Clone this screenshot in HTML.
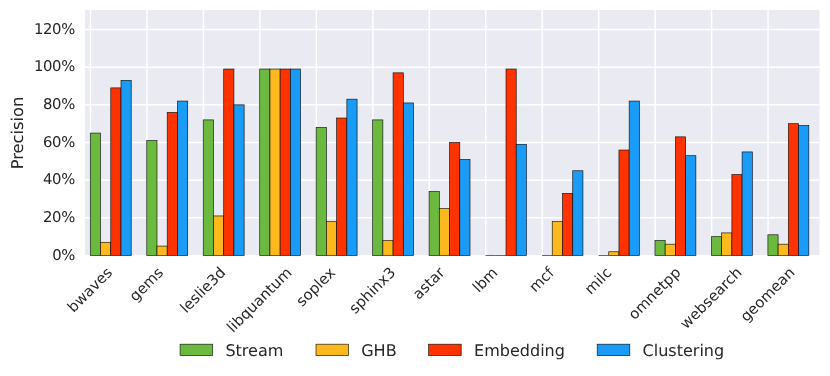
<!DOCTYPE html>
<html><head><meta charset="utf-8"><style>
html,body{margin:0;padding:0;background:#fff;width:830px;height:376px;overflow:hidden}
svg{display:block}
text{font-family:"DejaVu Sans","Liberation Sans",sans-serif;fill:#262626;text-rendering:geometricPrecision}
</style></head><body>
<svg width="830" height="376" viewBox="0 0 830 376">
<rect x="85" y="9.9" width="734.6" height="245.1" fill="#EAEAF2"/>
<g stroke="#fff" stroke-width="1.45"><line x1="85" x2="819.6" y1="217.83" y2="217.83"/><line x1="85" x2="819.6" y1="180.17" y2="180.17"/><line x1="85" x2="819.6" y1="142.5" y2="142.5"/><line x1="85" x2="819.6" y1="104.83" y2="104.83"/><line x1="85" x2="819.6" y1="67.17" y2="67.17"/><line x1="85" x2="819.6" y1="29.5" y2="29.5"/><line x1="90.5" x2="90.5" y1="9.9" y2="255"/><line x1="146.97" x2="146.97" y1="9.9" y2="255"/><line x1="203.43" x2="203.43" y1="9.9" y2="255"/><line x1="259.89" x2="259.89" y1="9.9" y2="255"/><line x1="316.36" x2="316.36" y1="9.9" y2="255"/><line x1="372.83" x2="372.83" y1="9.9" y2="255"/><line x1="429.29" x2="429.29" y1="9.9" y2="255"/><line x1="485.75" x2="485.75" y1="9.9" y2="255"/><line x1="542.22" x2="542.22" y1="9.9" y2="255"/><line x1="598.69" x2="598.69" y1="9.9" y2="255"/><line x1="655.15" x2="655.15" y1="9.9" y2="255"/><line x1="711.62" x2="711.62" y1="9.9" y2="255"/><line x1="768.08" x2="768.08" y1="9.9" y2="255"/></g>
<g stroke="#000" stroke-width="0.7" stroke-opacity="0.85"><rect x="90.3" y="133.08" width="10.23" height="122.42" fill="#6CB940"/><rect x="100.53" y="242.32" width="10.23" height="13.18" fill="#FCB91E"/><rect x="110.76" y="87.88" width="10.23" height="167.62" fill="#FF3300"/><rect x="120.99" y="80.35" width="10.23" height="175.15" fill="#1A9BF5"/><rect x="146.76" y="140.62" width="10.23" height="114.88" fill="#6CB940"/><rect x="156.99" y="246.08" width="10.23" height="9.42" fill="#FCB91E"/><rect x="167.22" y="112.37" width="10.23" height="143.13" fill="#FF3300"/><rect x="177.45" y="101.07" width="10.23" height="154.43" fill="#1A9BF5"/><rect x="203.23" y="119.9" width="10.23" height="135.6" fill="#6CB940"/><rect x="213.46" y="215.95" width="10.23" height="39.55" fill="#FCB91E"/><rect x="223.69" y="69.05" width="10.23" height="186.45" fill="#FF3300"/><rect x="233.92" y="104.83" width="10.23" height="150.67" fill="#1A9BF5"/><rect x="259.69" y="69.05" width="10.23" height="186.45" fill="#6CB940"/><rect x="269.93" y="69.05" width="10.23" height="186.45" fill="#FCB91E"/><rect x="280.15" y="69.05" width="10.23" height="186.45" fill="#FF3300"/><rect x="290.38" y="69.05" width="10.23" height="186.45" fill="#1A9BF5"/><rect x="316.16" y="127.43" width="10.23" height="128.07" fill="#6CB940"/><rect x="326.39" y="221.6" width="10.23" height="33.9" fill="#FCB91E"/><rect x="336.62" y="118.02" width="10.23" height="137.48" fill="#FF3300"/><rect x="346.85" y="99.18" width="10.23" height="156.32" fill="#1A9BF5"/><rect x="372.63" y="119.9" width="10.23" height="135.6" fill="#6CB940"/><rect x="382.86" y="240.43" width="10.23" height="15.07" fill="#FCB91E"/><rect x="393.09" y="72.82" width="10.23" height="182.68" fill="#FF3300"/><rect x="403.32" y="102.95" width="10.23" height="152.55" fill="#1A9BF5"/><rect x="429.09" y="191.47" width="10.23" height="64.03" fill="#6CB940"/><rect x="439.32" y="208.42" width="10.23" height="47.08" fill="#FCB91E"/><rect x="449.55" y="142.5" width="10.23" height="113" fill="#FF3300"/><rect x="459.78" y="159.45" width="10.23" height="96.05" fill="#1A9BF5"/><line x1="485.56" x2="495.79" y1="255.5" y2="255.5"/><line x1="495.79" x2="506.02" y1="255.5" y2="255.5"/><rect x="506.01" y="69.05" width="10.23" height="186.45" fill="#FF3300"/><rect x="516.25" y="144.38" width="10.23" height="111.12" fill="#1A9BF5"/><line x1="542.02" x2="552.25" y1="255.5" y2="255.5"/><rect x="552.25" y="221.6" width="10.23" height="33.9" fill="#FCB91E"/><rect x="562.48" y="193.35" width="10.23" height="62.15" fill="#FF3300"/><rect x="572.71" y="170.75" width="10.23" height="84.75" fill="#1A9BF5"/><line x1="598.49" x2="608.72" y1="255.5" y2="255.5"/><rect x="608.72" y="251.73" width="10.23" height="3.77" fill="#FCB91E"/><rect x="618.95" y="150.03" width="10.23" height="105.47" fill="#FF3300"/><rect x="629.18" y="101.07" width="10.23" height="154.43" fill="#1A9BF5"/><rect x="654.95" y="240.43" width="10.23" height="15.07" fill="#6CB940"/><rect x="665.18" y="244.2" width="10.23" height="11.3" fill="#FCB91E"/><rect x="675.41" y="136.85" width="10.23" height="118.65" fill="#FF3300"/><rect x="685.64" y="155.68" width="10.23" height="99.82" fill="#1A9BF5"/><rect x="711.41" y="236.67" width="10.23" height="18.83" fill="#6CB940"/><rect x="721.64" y="232.9" width="10.23" height="22.6" fill="#FCB91E"/><rect x="731.88" y="174.52" width="10.23" height="80.98" fill="#FF3300"/><rect x="742.11" y="151.92" width="10.23" height="103.58" fill="#1A9BF5"/><rect x="767.88" y="234.78" width="10.23" height="20.72" fill="#6CB940"/><rect x="778.11" y="244.2" width="10.23" height="11.3" fill="#FCB91E"/><rect x="788.34" y="123.67" width="10.23" height="131.83" fill="#FF3300"/><rect x="798.57" y="125.55" width="10.23" height="129.95" fill="#1A9BF5"/></g>
<g font-size="14.8" text-anchor="end" letter-spacing="-0.3"><text x="75" y="259.8">0%</text><text x="75" y="221.73">20%</text><text x="75" y="184.27">40%</text><text x="75" y="146.7">60%</text><text x="75" y="108.73">80%</text><text x="75" y="71.07">100%</text><text x="75" y="34.3">120%</text></g>
<g font-size="14.8" text-anchor="middle" id="xls"><text transform="translate(90.5 290.41) rotate(-45)" y="4.08">bwaves</text><text transform="translate(146.96 284.93) rotate(-45)" y="4.08">gems</text><text transform="translate(203.43 290.74) rotate(-45)" y="4.08">leslie3d</text><text transform="translate(259.89 300.42) rotate(-45)" y="4.08">libquantum</text><text transform="translate(316.36 287.49) rotate(-45)" y="4.08">soplex</text><text transform="translate(372.83 291.12) rotate(-45)" y="4.08">sphinx3</text><text transform="translate(429.29 283.91) rotate(-45)" y="4.08">astar</text><text transform="translate(485.76 280.44) rotate(-45)" y="4.08">lbm</text><text transform="translate(542.22 280.38) rotate(-45)" y="4.08">mcf</text><text transform="translate(598.69 281.45) rotate(-45)" y="4.08">milc</text><text transform="translate(655.15 294.09) rotate(-45)" y="4.08">omnetpp</text><text transform="translate(711.62 298.76) rotate(-45)" y="4.08">websearch</text><text transform="translate(768.08 295.14) rotate(-45)" y="4.08">geomean</text></g>
<text font-size="16.3" text-anchor="middle" transform="translate(22.7 133.0) rotate(-90)">Precision</text>
<rect x="180.1" y="344.2" width="32.6" height="11.4" fill="#6CB940" stroke="#000" stroke-opacity="0.85" stroke-width="0.7"/><text x="225.4" y="355.55" font-size="16.05">Stream</text><rect x="316" y="344.2" width="32.6" height="11.4" fill="#FCB91E" stroke="#000" stroke-opacity="0.85" stroke-width="0.7"/><text x="361.2" y="355.55" font-size="16.05">GHB</text><rect x="428.6" y="344.2" width="32.6" height="11.4" fill="#FF3300" stroke="#000" stroke-opacity="0.85" stroke-width="0.7"/><text x="474" y="355.55" font-size="16.05">Embedding</text><rect x="597.2" y="344.2" width="32.6" height="11.4" fill="#1A9BF5" stroke="#000" stroke-opacity="0.85" stroke-width="0.7"/><text x="642.5" y="355.55" font-size="16.05">Clustering</text>
</svg>
</body></html>
